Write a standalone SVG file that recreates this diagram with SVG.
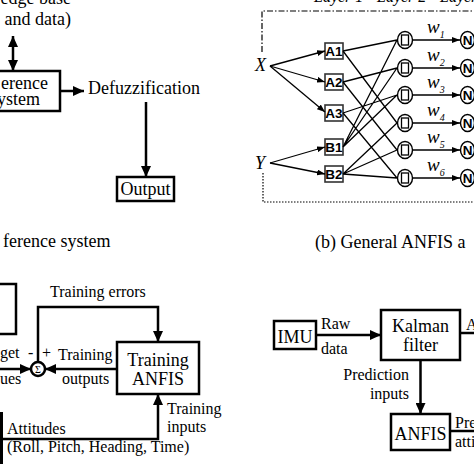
<svg xmlns="http://www.w3.org/2000/svg" width="474" height="474" viewBox="0 0 474 474">
<style>
text{font-family:"Liberation Serif","Times New Roman",serif;fill:#000}
.t18{font-size:18px}
.t16{font-size:16px}
.it{font-style:italic}
.box{fill:#fff;stroke:#000;stroke-width:2.5}
.ln{fill:none;stroke:#000;stroke-width:2.5}
.thin{fill:none;stroke:#000;stroke-width:1.3}
.abox{fill:#fff;stroke:#333;stroke-width:1.6}
.alab{font-family:"Liberation Sans",Arial,sans-serif;font-weight:bold;font-size:13.5px}
.node{fill:#fff;stroke:#000;stroke-width:1.4}
.wl{font-style:italic;font-size:19px}
</style>
<defs>
<marker id="ah" markerUnits="userSpaceOnUse" markerWidth="11" markerHeight="10" refX="11" refY="5" orient="auto-start-reverse"><path d="M0,0 L11,5 L0,10 z" fill="#000"/></marker>
<marker id="as" markerUnits="userSpaceOnUse" markerWidth="8" markerHeight="6" refX="8" refY="3" orient="auto"><path d="M0,0 L8,3 L0,6 z" fill="#000"/></marker>
</defs>

<!-- Panel (a) -->
<g id="knowledge">
<text class="t18" x="71" y="4" text-anchor="end">edge base</text>
<text class="t18" x="71" y="25" text-anchor="end">and data)</text>
</g>
<g id="inference">
<rect class="box" x="-5" y="71" width="65" height="40"/>
<text class="t18" x="48" y="89" text-anchor="end">erence</text>
<text class="t18" x="40" y="105" text-anchor="end">ystem</text>
</g>
<g id="defuzz"><text class="t18" x="88" y="94">Defuzzification</text></g>
<g id="output">
<rect class="box" x="117" y="177" width="57" height="24" stroke-width="2"/>
<text class="t18" x="145.5" y="195" text-anchor="middle">Output</text>
</g>
<text class="t18" x="3" y="247">ference system</text>

<!-- Panel (b) -->
<g id="layers">
<text class="t16 it" x="314" y="2">Layer 1</text>
<text class="t16 it" x="377" y="2">Layer 2</text>
<text class="t16 it" x="440" y="2">Layer 3</text>
</g>
<path d="M262,52 V11 H474" fill="none" stroke="#000" stroke-width="1.2" stroke-dasharray="6,2,1.5,2"/>
<path d="M263,173 V202 H474" fill="none" stroke="#000" stroke-width="1.2" stroke-dasharray="1.5,1.5"/>
<g id="X"><text class="t18 it" x="255" y="71">X</text></g>
<g id="Y"><text class="t18 it" x="255" y="169">Y</text></g>
<g id="A1"><rect class="abox" x="325" y="43" width="18" height="16"/><text class="alab" x="334" y="56" text-anchor="middle">A1</text></g>
<g id="A2"><rect class="abox" x="325" y="74" width="18" height="16"/><text class="alab" x="334" y="87" text-anchor="middle">A2</text></g>
<g id="A3"><rect class="abox" x="325" y="105" width="18" height="16"/><text class="alab" x="334" y="118" text-anchor="middle">A3</text></g>
<g id="B1"><rect class="abox" x="325" y="139" width="18" height="16"/><text class="alab" x="334" y="152" text-anchor="middle">B1</text></g>
<g id="B2"><rect class="abox" x="325" y="166" width="18" height="16"/><text class="alab" x="334" y="179" text-anchor="middle">B2</text></g>

<g id="anfis-connectors">
<path class="thin" marker-end="url(#as)" d="M270,66 L325,51"/>
<path class="thin" marker-end="url(#as)" d="M270,66 L325,82"/>
<path class="thin" marker-end="url(#as)" d="M270,66 L325,112"/>
<path class="thin" marker-end="url(#as)" d="M270,163 L325,147"/>
<path class="thin" marker-end="url(#as)" d="M270,163 L325,174"/>
<path class="thin" d="M343,51 L397,40 M343,51 L397,123 M343,82 L397,68 M343,82 L397,150 M343,113 L397,95 M343,113 L397,178 M343,147 L397,40 M343,147 L397,68 M343,147 L397,95 M343,174 L397,123 M343,174 L397,150 M343,174 L397,178"/>
<path class="thin" marker-end="url(#as)" d="M413,40 L460,40"/>
<path class="thin" marker-end="url(#as)" d="M413,68 L460,68"/>
<path class="thin" marker-end="url(#as)" d="M413,95 L460,95"/>
<path class="thin" marker-end="url(#as)" d="M413,123 L460,123"/>
<path class="thin" marker-end="url(#as)" d="M413,150 L460,150"/>
<path class="thin" marker-end="url(#as)" d="M413,178 L460,178"/>
</g>
<g id="P1"><ellipse class="node" cx="405" cy="40" rx="7.5" ry="8.5"/><rect class="thin" x="401.5" y="35" width="7" height="10"/></g>
<g id="P2"><ellipse class="node" cx="405" cy="68" rx="7.5" ry="8.5"/><rect class="thin" x="401.5" y="63" width="7" height="10"/></g>
<g id="P3"><ellipse class="node" cx="405" cy="95" rx="7.5" ry="8.5"/><rect class="thin" x="401.5" y="90" width="7" height="10"/></g>
<g id="P4"><ellipse class="node" cx="405" cy="123" rx="7.5" ry="8.5"/><rect class="thin" x="401.5" y="118" width="7" height="10"/></g>
<g id="P5"><ellipse class="node" cx="405" cy="150" rx="7.5" ry="8.5"/><rect class="thin" x="401.5" y="145" width="7" height="10"/></g>
<g id="P6"><ellipse class="node" cx="405" cy="178" rx="7.5" ry="8.5"/><rect class="thin" x="401.5" y="173" width="7" height="10"/></g>
<g id="N1"><ellipse class="node" cx="467.5" cy="40" rx="7" ry="8.5"/><text class="alab" x="467.5" y="44.5" text-anchor="middle" font-size="12">N</text></g>
<g id="N2"><ellipse class="node" cx="467.5" cy="68" rx="7" ry="8.5"/><text class="alab" x="467.5" y="72.5" text-anchor="middle" font-size="12">N</text></g>
<g id="N3"><ellipse class="node" cx="467.5" cy="95" rx="7" ry="8.5"/><text class="alab" x="467.5" y="99.5" text-anchor="middle" font-size="12">N</text></g>
<g id="N4"><ellipse class="node" cx="467.5" cy="123" rx="7" ry="8.5"/><text class="alab" x="467.5" y="127.5" text-anchor="middle" font-size="12">N</text></g>
<g id="N5"><ellipse class="node" cx="467.5" cy="150" rx="7" ry="8.5"/><text class="alab" x="467.5" y="154.5" text-anchor="middle" font-size="12">N</text></g>
<g id="N6"><ellipse class="node" cx="467.5" cy="178" rx="7" ry="8.5"/><text class="alab" x="467.5" y="182.5" text-anchor="middle" font-size="12">N</text></g>
<g id="weights">
<text class="wl" x="427" y="33">w<tspan font-size="10" dy="5">1</tspan></text>
<text class="wl" x="427" y="61">w<tspan font-size="10" dy="5">2</tspan></text>
<text class="wl" x="427" y="88">w<tspan font-size="10" dy="5">3</tspan></text>
<text class="wl" x="427" y="116">w<tspan font-size="10" dy="5">4</tspan></text>
<text class="wl" x="427" y="143">w<tspan font-size="10" dy="5">5</tspan></text>
<text class="wl" x="427" y="171">w<tspan font-size="10" dy="5">6</tspan></text>
</g>
<text class="t18" x="315" y="248">(b) General ANFIS a</text>

<!-- Panel (c) -->
<g id="leftbox"><path class="ln" d="M0,284 H16 V334 H0"/></g>
<g id="sigma"><circle cx="38" cy="369" r="7" fill="#fff" stroke="#000" stroke-width="2.5"/><text x="38" y="373" font-size="10" text-anchor="middle">Σ</text></g>
<g id="trainanfis">
<rect class="box" x="117" y="342" width="82" height="52"/>
<text class="t18" x="158" y="366" text-anchor="middle">Training</text>
<text class="t18" x="158" y="385" text-anchor="middle">ANFIS</text>
</g>
<g id="attbar"><rect x="0" y="412" width="3" height="52" fill="#000"/></g>

<!-- Panel (d) -->
<g id="imu"><rect class="box" x="274" y="321" width="42" height="28"/><text class="t18" x="295" y="343" text-anchor="middle">IMU</text></g>
<g id="kalman"><rect class="box" x="381" y="310" width="79" height="50"/><text class="t18" x="420.5" y="332" text-anchor="middle">Kalman</text><text class="t18" x="420.5" y="351" text-anchor="middle">filter</text></g>
<g id="anfis"><rect class="box" x="391" y="414" width="59" height="36"/><text class="t18" x="420.5" y="440" text-anchor="middle">ANFIS</text></g>

<g id="connectors">
<path class="ln" stroke-width="3" marker-start="url(#ah)" marker-end="url(#ah)" d="M13,36 V71"/>
<path class="ln" marker-end="url(#ah)" d="M60,91 H84"/>
<path class="ln" marker-end="url(#ah)" d="M146,102 V177"/>
<path class="ln" marker-end="url(#ah)" d="M0,369 H31"/>
<path class="ln" marker-end="url(#ah)" d="M117,369 H45"/>
<path class="ln" marker-end="url(#ah)" d="M38,362 V307 H158 V342"/>
<path class="ln" marker-end="url(#ah)" d="M2,439 H158 V394"/>
<path class="ln" marker-end="url(#ah)" d="M316,335 H381"/>
<path class="ln" d="M460,333 H474"/>
<path class="ln" marker-end="url(#ah)" d="M420.5,360 V414"/>
<path class="ln" d="M450,431 H474"/>
</g>

<g id="labels">
<text class="t16" x="0" y="358">get</text>
<text class="t16" x="0" y="384">ues</text>
<text class="t16" x="28" y="358">-</text>
<text class="t16" x="42" y="358" font-size="13">+</text>
<text class="t16" x="58" y="360">Training</text>
<text class="t16" x="62" y="384">outputs</text>
<text class="t16" x="50" y="297">Training errors</text>
<text class="t16" x="167" y="414">Training</text>
<text class="t16" x="167" y="432">inputs</text>
<text class="t16" x="7" y="434">Attitudes</text>
<text class="t16" x="7" y="452">(Roll, Pitch, Heading, Time)</text>
<text class="t16" x="321" y="329">Raw</text>
<text class="t16" x="321" y="354">data</text>
<text class="t16" x="409" y="380" text-anchor="end">Prediction</text>
<text class="t16" x="409" y="399" text-anchor="end">inputs</text>
<text class="t16" x="466" y="330">A</text>
<text class="t16" x="455" y="428">Pre</text>
<text class="t16" x="455" y="447">atti</text>
</g>
</svg>
